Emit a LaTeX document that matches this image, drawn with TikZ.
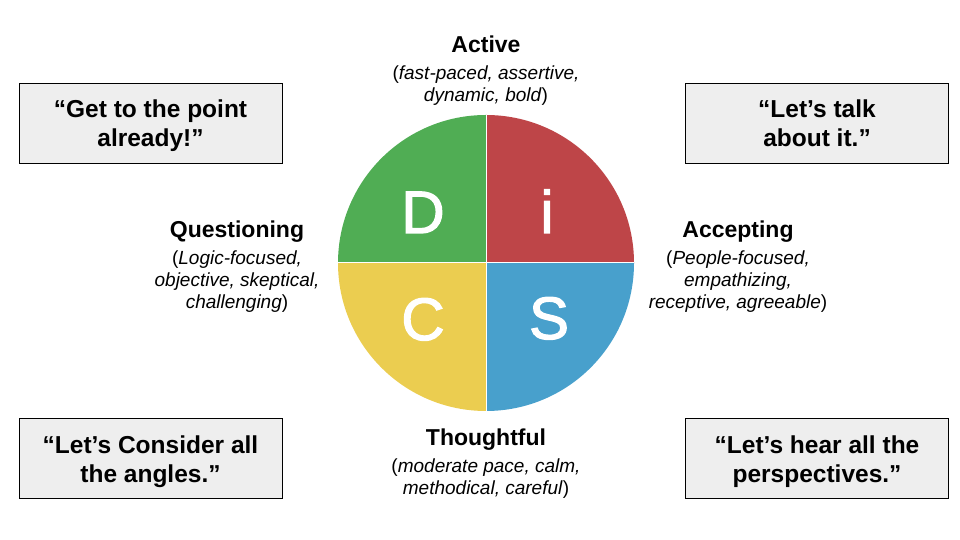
\documentclass[tikz,border=0pt]{standalone}
\usepackage{fontspec}
\setmainfont{Liberation Sans}
\newfontface\letterfont[FakeBold=2]{Liberation Sans}
\newcommand\quotestrut{\rule{0pt}{24pt}}
\usetikzlibrary{positioning}
\definecolor{discgreen}{RGB}{80,173,84}
\definecolor{discred}{RGB}{190,69,72}
\definecolor{discblue}{RGB}{72,160,204}
\definecolor{discyellow}{RGB}{235,205,80}
\definecolor{boxgray}{RGB}{238,238,238}

\begin{document}
\begin{tikzpicture}[x=1pt, y=1pt, every node/.style={inner sep=0pt}]
  \tikzstyle{quote}=[draw, fill=boxgray, line width=0.8pt, minimum width=263pt, minimum height=80pt, align=center, font=\fontsize{24.5}{29}\selectfont\bfseries]
  \tikzstyle{trait}=[font=\fontsize{23}{26}\selectfont\bfseries]
  \tikzstyle{traitdesc}=[align=center, font=\fontsize{19}{22}\selectfont]
  \tikzstyle{letter}=[anchor=base, text=white, font=\fontsize{60}{60}\letterfont]
  \useasboundingbox (0,0) rectangle (960,540);
  % DiSC circle
  \coordinate (c) at (486,277);
  \fill[discgreen] (c) -- ++(-148,0) arc (180:90:148) -- cycle;
  \fill[discred] (c) -- ++(0,148) arc (90:0:148) -- cycle;
  \fill[discblue] (c) -- ++(148,0) arc (0:-90:148) -- cycle;
  \fill[discyellow] (c) -- ++(0,-148) arc (270:180:148) -- cycle;
  \draw[white, line width=1pt] (c) ++(-148,0) -- ++(296,0);
  \draw[white, line width=1pt] (c) ++(0,-148) -- ++(0,296);
  \node[letter] (dee) at (423,307) {D};
  \node[letter] (eye) at (547,307) {i};
  \node[letter] (see) at (423,200) {C};
  \node[letter] (ess) at (549,201) {S};
  % traits
  \node[trait, anchor=base] (active) at (486,487) {Active};
  \node[traitdesc, below=12.5pt of active.base] (activedesc) {(\textit{fast-paced, assertive,}\\\textit{dynamic, bold})};
  \node[trait, anchor=base] (quest) at (237,302) {Questioning};
  \node[traitdesc, below=12.5pt of quest.base] (questdesc) {(\textit{Logic-focused,}\\\textit{objective, skeptical,}\\\textit{challenging})};
  \node[trait, anchor=base] (accept) at (738,302) {Accepting};
  \node[traitdesc, below=12.5pt of accept.base] (acceptdesc) {(\textit{People-focused,}\\\textit{empathizing,}\\\textit{receptive, agreeable})};
  \node[trait, anchor=base] (thought) at (486,94) {Thoughtful};
  \node[traitdesc, below=12.5pt of thought.base] (thoughtdesc) {(\textit{moderate pace, calm,}\\\textit{methodical, careful})};
  % quotes
  \node[quote] (getpoint) at (150.5,417) {\quotestrut“Get to the point\\already!”};
  \node[quote] (talk) at (817,417) {\quotestrut“Let’s talk\\about it.”\rule[-5.5pt]{0pt}{1pt}};
  \node[quote] (angles) at (150.5,81.5) {\quotestrut“Let’s Consider all\\the angles.”};
  \node[quote] (hear) at (817,81.5) {\quotestrut“Let’s hear all the\\perspectives.”};
\end{tikzpicture}
\end{document}
